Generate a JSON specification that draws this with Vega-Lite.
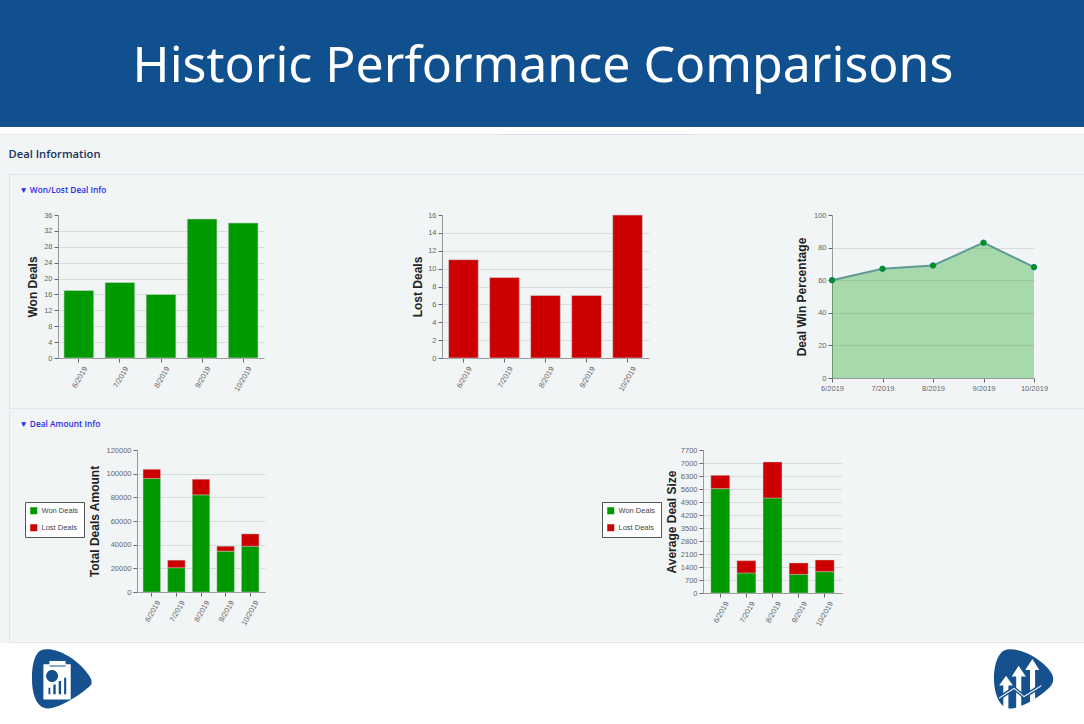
{
"$schema":"https://vega.github.io/schema/vega-lite/v6.json",
"padding":0,
"autosize":{"type":"pad"},
"background":"#f1f5f6",
"config":{
 "view":{"stroke":null},
 "axis":{"labelFont":"Liberation Sans","labelFontSize":7.5,"labelColor":"#666666","titleFont":"Liberation Sans","titleFontSize":12,"titleFontWeight":"bold","titleColor":"#222222","domainColor":"#999999","tickColor":"#666666","tickSize":4,"gridColor":"#d8dcdd","labelPadding":2,"labelOverlap":false,"labelFlush":false},
 "text":{"font":"Liberation Sans"}
},
"datasets":{
 "deals":[
  {"month":"6/2019","won":17,"lost":11,"winPct":60},
  {"month":"7/2019","won":19,"lost":9,"winPct":67},
  {"month":"8/2019","won":16,"lost":7,"winPct":69},
  {"month":"9/2019","won":35,"lost":7,"winPct":83},
  {"month":"10/2019","won":34,"lost":16,"winPct":68}
 ],
 "amounts":[
  {"month":"6/2019","series":"Won Deals","total":95900,"avg":5620},
  {"month":"6/2019","series":"Lost Deals","total":7800,"avg":718},
  {"month":"7/2019","series":"Won Deals","total":20500,"avg":1077},
  {"month":"7/2019","series":"Lost Deals","total":6400,"avg":664},
  {"month":"8/2019","series":"Won Deals","total":82100,"avg":5116},
  {"month":"8/2019","series":"Lost Deals","total":13200,"avg":1938},
  {"month":"9/2019","series":"Won Deals","total":34500,"avg":1005},
  {"month":"9/2019","series":"Lost Deals","total":4200,"avg":610},
  {"month":"10/2019","series":"Won Deals","total":38700,"avg":1149},
  {"month":"10/2019","series":"Lost Deals","total":10400,"avg":628}
 ]
},
"spacing":0,
"vconcat":[
 {"width":1084,"height":127,"view":{"fill":"#10508f"},"data":{"values":[{"t":"Historic Performance Comparisons"}]},
  "mark":{"type":"text","font":"Noto Sans","fontSize":50,"color":"#ffffff","align":"center","baseline":"middle","dy":3,"dx":1},
  "encoding":{"text":{"field":"t"}}},
 {"width":1084,"height":7,"view":{"fill":"#ffffff"},"data":{"values":[]},"mark":"text"},
 {"hconcat":[
   {"width":503,"height":1,"view":{"fill":"#e6eaeb"},"data":{"values":[]},"mark":"text"},
   {"width":187,"height":1,"view":{"fill":"#d5dbe6"},"data":{"values":[]},"mark":"text"},
   {"width":394,"height":1,"view":{"fill":"#e6eaeb"},"data":{"values":[]},"mark":"text"}
  ],"spacing":0,"bounds":"flush"},
 {"hconcat":[
   {"width":8,"height":39,"data":{"values":[]},"mark":"text"},
   {"width":1,"height":39,"data":{"values":[{"t":"Deal Information"}]},
    "mark":{"type":"text","font":"Open Sans","fontWeight":600,"fontSize":11.2,"color":"#16325c","align":"left","baseline":"middle"},
    "encoding":{"text":{"field":"t"}}}
  ],"spacing":0,"bounds":"flush"},
 {"spacing":0,"hconcat":[
   {"spacing":0,"bounds":"flush","hconcat":[
     {"width":9,"height":469,"data":{"values":[]},"mark":"text"},
     {"width":1,"height":469,"view":{"fill":"#e2e6ea"},"data":{"values":[]},"mark":"text"}
   ]},
   {"spacing":0,"vconcat":[
     {"width":1074,"height":1,"view":{"fill":"#e2e6ea"},"data":{"values":[]},"mark":"text"},
     {"spacing":0,"bounds":"flush","hconcat":[
       {"width":9,"height":32,"data":{"values":[]},"mark":"text"},
       {"width":1,"height":32,"data":{"values":[{"t":"▼ Won/Lost Deal Info"}]},
        "mark":{"type":"text","font":"Open Sans","fontWeight":600,"fontSize":8.3,"color":"#2a2aee","align":"left","baseline":"middle"},
        "encoding":{"text":{"field":"t"}}}
     ]},
     {"width":1074,"height":4,"data":{"values":[]},"mark":"text"},
     {"spacing":0,"bounds":"flush","hconcat":[
       {"width":48,"height":193,"data":{"values":[]},"mark":"text"},
       {"width":206,"height":143,"data":{"name":"deals"},
        "mark":{"type":"bar","color":"#009900","stroke":"#cfd5d5","strokeWidth":1,"strokeOpacity":0.6},
        "encoding":{
         "x":{"field":"month","type":"nominal","sort":null,"title":null,"scale":{"paddingInner":0.276,"paddingOuter":0.145},"axis":{"labelAngle":-60,"labelAlign":"right","labelBaseline":"middle","labelOffset":7,"labelPadding":5}},
         "y":{"field":"won","type":"quantitative","title":"Won Deals","scale":{"domain":[0,36],"nice":false},"axis":{"values":[0,4,8,12,16,20,24,28,32,36],"titleX":-18.5,"gridOpacity":{"condition":{"test":"datum.value===36","value":0},"value":1}}}
        }},
       {"width":178,"height":193,"data":{"values":[]},"mark":"text"},
       {"width":207,"height":143,"data":{"name":"deals"},
        "mark":{"type":"bar","color":"#cc0000","stroke":"#cfd5d5","strokeWidth":1,"strokeOpacity":0.6},
        "encoding":{
         "x":{"field":"month","type":"nominal","sort":null,"title":null,"scale":{"paddingInner":0.276,"paddingOuter":0.16},"axis":{"labelAngle":-60,"labelAlign":"right","labelBaseline":"middle","labelOffset":7,"labelPadding":5}},
         "y":{"field":"lost","type":"quantitative","title":"Lost Deals","scale":{"domain":[0,16],"nice":false},"axis":{"values":[0,2,4,6,8,10,12,14,16],"titleX":-18,"gridOpacity":{"condition":{"test":"datum.value===16","value":0},"value":1}}}
        }},
       {"width":183,"height":193,"data":{"values":[]},"mark":"text"},
       {"width":202,"height":163,"data":{"name":"deals"},
        "encoding":{
         "x":{"field":"month","type":"nominal","sort":null,"title":null,"scale":{"type":"point","padding":0},"axis":{"labelAngle":0,"labelAlign":"center","labelBaseline":"top","labelPadding":2}},
         "y":{"field":"winPct","type":"quantitative","title":"Deal Win Percentage","scale":{"domain":[0,100],"nice":false},"axis":{"values":[0,20,40,60,80,100],"titleX":-24,"gridOpacity":{"condition":{"test":"datum.value===100","value":0},"value":1}}}
        },
        "layer":[
         {"mark":{"type":"area","color":"#009900","opacity":0.3}},
         {"mark":{"type":"line","color":"#5f9a94","strokeWidth":2}},
         {"mark":{"type":"point","filled":true,"fill":"#009900","stroke":"#0a7d80","strokeWidth":1,"size":30,"opacity":1}}
        ]}
     ]},
     {"width":1074,"height":1,"view":{"fill":"#e2e6ea"},"data":{"values":[]},"mark":"text"},
     {"spacing":0,"bounds":"flush","hconcat":[
       {"width":9,"height":32,"data":{"values":[]},"mark":"text"},
       {"width":1,"height":32,"data":{"values":[{"t":"▼ Deal Amount Info"}]},
        "mark":{"type":"text","font":"Open Sans","fontWeight":600,"fontSize":8.3,"color":"#2a2aee","align":"left","baseline":"middle"},
        "encoding":{"text":{"field":"t"}}}
     ]},
     {"width":1074,"height":5,"data":{"values":[]},"mark":"text"},
     {"spacing":0,"bounds":"flush","resolve":{"scale":{"color":"independent"},"legend":{"color":"independent"}},"hconcat":[
       {"width":127,"height":192,"data":{"values":[]},"mark":"text"},
       {"width":128,"height":142,"data":{"name":"amounts"},
        "mark":{"type":"bar","stroke":"#cfd5d5","strokeWidth":1,"strokeOpacity":0.4},
        "encoding":{
         "x":{"field":"month","type":"nominal","sort":null,"title":null,"scale":{"paddingInner":0.29,"paddingOuter":0.246},"axis":{"labelAngle":-60,"labelAlign":"right","labelBaseline":"middle","labelOffset":7,"labelPadding":5}},
         "y":{"field":"total","type":"quantitative","title":"Total Deals Amount","stack":"zero","scale":{"domain":[0,120000],"nice":false},"axis":{"values":[0,20000,40000,60000,80000,100000,120000],"titleX":-36,"format":"d","gridOpacity":{"condition":{"test":"datum.value===120000","value":0},"value":1}}},
         "color":{"field":"series","type":"nominal","scale":{"domain":["Won Deals","Lost Deals"],"range":["#009900","#cc0000"]},"legend":{"orient":"none","legendX":-112,"legendY":52,"title":null,"symbolType":"square","symbolSize":49,"symbolStrokeWidth":0,"labelFont":"Liberation Sans","labelFontSize":7.5,"labelColor":"#444444","fillColor":"#ffffff","strokeColor":"#555555","padding":5,"rowPadding":8,"labelOffset":4}}
        }},
       {"width":438,"height":192,"data":{"values":[]},"mark":"text"},
       {"width":139,"height":143,"data":{"name":"amounts"},
        "mark":{"type":"bar","stroke":"#cfd5d5","strokeWidth":1,"strokeOpacity":0.4},
        "encoding":{
         "x":{"field":"month","type":"nominal","sort":null,"title":null,"scale":{"paddingInner":0.276,"paddingOuter":0.3},"axis":{"labelAngle":-60,"labelAlign":"right","labelBaseline":"middle","labelOffset":7,"labelPadding":5}},
         "y":{"field":"avg","type":"quantitative","title":"Average Deal Size","stack":"zero","scale":{"domain":[0,7700],"nice":false},"axis":{"values":[0,700,1400,2100,2800,3500,4200,4900,5600,6300,7000,7700],"titleX":-25,"format":"d","gridOpacity":{"condition":{"test":"datum.value===7700","value":0},"value":1}}},
         "color":{"field":"series","type":"nominal","scale":{"domain":["Won Deals","Lost Deals"],"range":["#009900","#cc0000"]},"legend":{"orient":"none","legendX":-101,"legendY":52,"title":null,"symbolType":"square","symbolSize":49,"symbolStrokeWidth":0,"labelFont":"Liberation Sans","labelFontSize":7.5,"labelColor":"#444444","fillColor":"#ffffff","strokeColor":"#555555","padding":5,"rowPadding":8,"labelOffset":4}}
        }}
     ]},
     {"width":1074,"height":1,"view":{"fill":"#e2e6ea"},"data":{"values":[]},"mark":"text"}
   ]}
 ]},
 {"spacing":0,"bounds":"flush","hconcat":[
   {"width":32,"height":72,"view":{"fill":"#ffffff"},"data":{"values":[]},"mark":"text"},
   {"width":60,"height":72,"view":{"fill":"#ffffff"},"data":{"values":[{"logo":"report"}]},
    "layer":[
     {"mark":{"type":"point","filled":true,"opacity":1,"fill":"#15508f","strokeWidth":0,"size":3600,"shape":"M -0.6 -0.98 C -0.2 -1.05 0.5 -0.7 0.9 -0.12 C 1.05 0.1 1.0 0.2 0.85 0.3 C 0.5 0.6 -0.15 1 -0.5 0.98 C -0.85 0.95 -1 0.5 -1 0 C -1 -0.5 -0.9 -0.95 -0.6 -0.98 Z"}},
     {"mark":{"type":"point","filled":true,"opacity":1,"fill":"#ffffff","strokeWidth":0,"size":3600,"shape":"M -0.62 -0.49 L -0.42 -0.49 L -0.42 -0.6 L 0.12 -0.6 L 0.12 -0.49 L 0.29 -0.49 L 0.29 0.68 L -0.62 0.68 Z"}},
     {"mark":{"type":"point","filled":true,"opacity":1,"fill":"#15508f","strokeWidth":0,"size":3600,"shape":"M -0.45 0.29 L -0.39 0.29 L -0.39 0.51 L -0.45 0.51 Z M -0.29 0.18 L -0.21 0.18 L -0.21 0.51 L -0.29 0.51 Z M -0.11 0.07 L -0.03 0.07 L -0.03 0.51 L -0.11 0.51 Z M 0.07 -0.04 L 0.14 -0.04 L 0.14 0.51 L 0.07 0.51 Z M -0.53 -0.1 A 0.2 0.2 0 1 1 -0.13 -0.1 A 0.2 0.2 0 1 1 -0.53 -0.1 Z M -0.42 -0.45 L 0.12 -0.45 L 0.12 -0.42 L -0.42 -0.42 Z"}}
    ]},
   {"width":902,"height":72,"view":{"fill":"#ffffff"},"data":{"values":[]},"mark":"text"},
   {"width":60,"height":72,"view":{"fill":"#ffffff"},"data":{"values":[{"logo":"growth"}]},
    "layer":[
     {"mark":{"type":"point","filled":true,"opacity":1,"fill":"#15508f","strokeWidth":0,"size":3600,"shape":"M -0.55 -0.98 C -0.1 -1.05 0.6 -0.65 0.88 -0.25 C 1.02 -0.05 1.0 0.12 0.85 0.28 C 0.5 0.62 -0.15 1 -0.5 0.98 C -0.8 0.95 -1 0.5 -1 0 C -1 -0.5 -0.85 -0.95 -0.55 -0.98 Z"}},
     {"mark":{"type":"point","filled":true,"opacity":1,"fill":"#ffffff","strokeWidth":0,"size":3600,"shape":"M -0.6 -0.11 L -0.37 0.22 L -0.52 0.22 L -0.52 0.98 L -0.69 0.98 L -0.69 0.22 L -0.83 0.22 Z M -0.18 -0.44 L 0.06 -0.08 L -0.09 -0.08 L -0.09 0.98 L -0.26 0.98 L -0.26 -0.08 L -0.41 -0.08 Z M 0.28 -0.67 L 0.51 -0.3 L 0.37 -0.3 L 0.37 0.76 L 0.2 0.76 L 0.2 -0.3 L 0.04 -0.3 Z"}},
     {"mark":{"type":"point","filled":true,"opacity":1,"fill":"#15508f","strokeWidth":0,"size":3600,"shape":"M -0.83 0.56 L -0.33 0.23 L 0 0.51 L 0.58 0.14 L 0.58 0.3 L 0 0.67 L -0.33 0.39 L -0.83 0.72 Z"}},
     {"mark":{"type":"point","filled":true,"opacity":1,"fill":"#ffffff","strokeWidth":0,"size":3600,"shape":"M -0.83 0.62 L -0.33 0.29 L 0 0.57 L 0.58 0.2 L 0.58 0.24 L 0 0.61 L -0.33 0.33 L -0.83 0.66 Z"}}
    ]},
   {"width":30,"height":72,"view":{"fill":"#ffffff"},"data":{"values":[]},"mark":"text"}
 ]},
 {"width":1084,"height":9,"view":{"fill":"#ffffff"},"data":{"values":[]},"mark":"text"}
]
}
